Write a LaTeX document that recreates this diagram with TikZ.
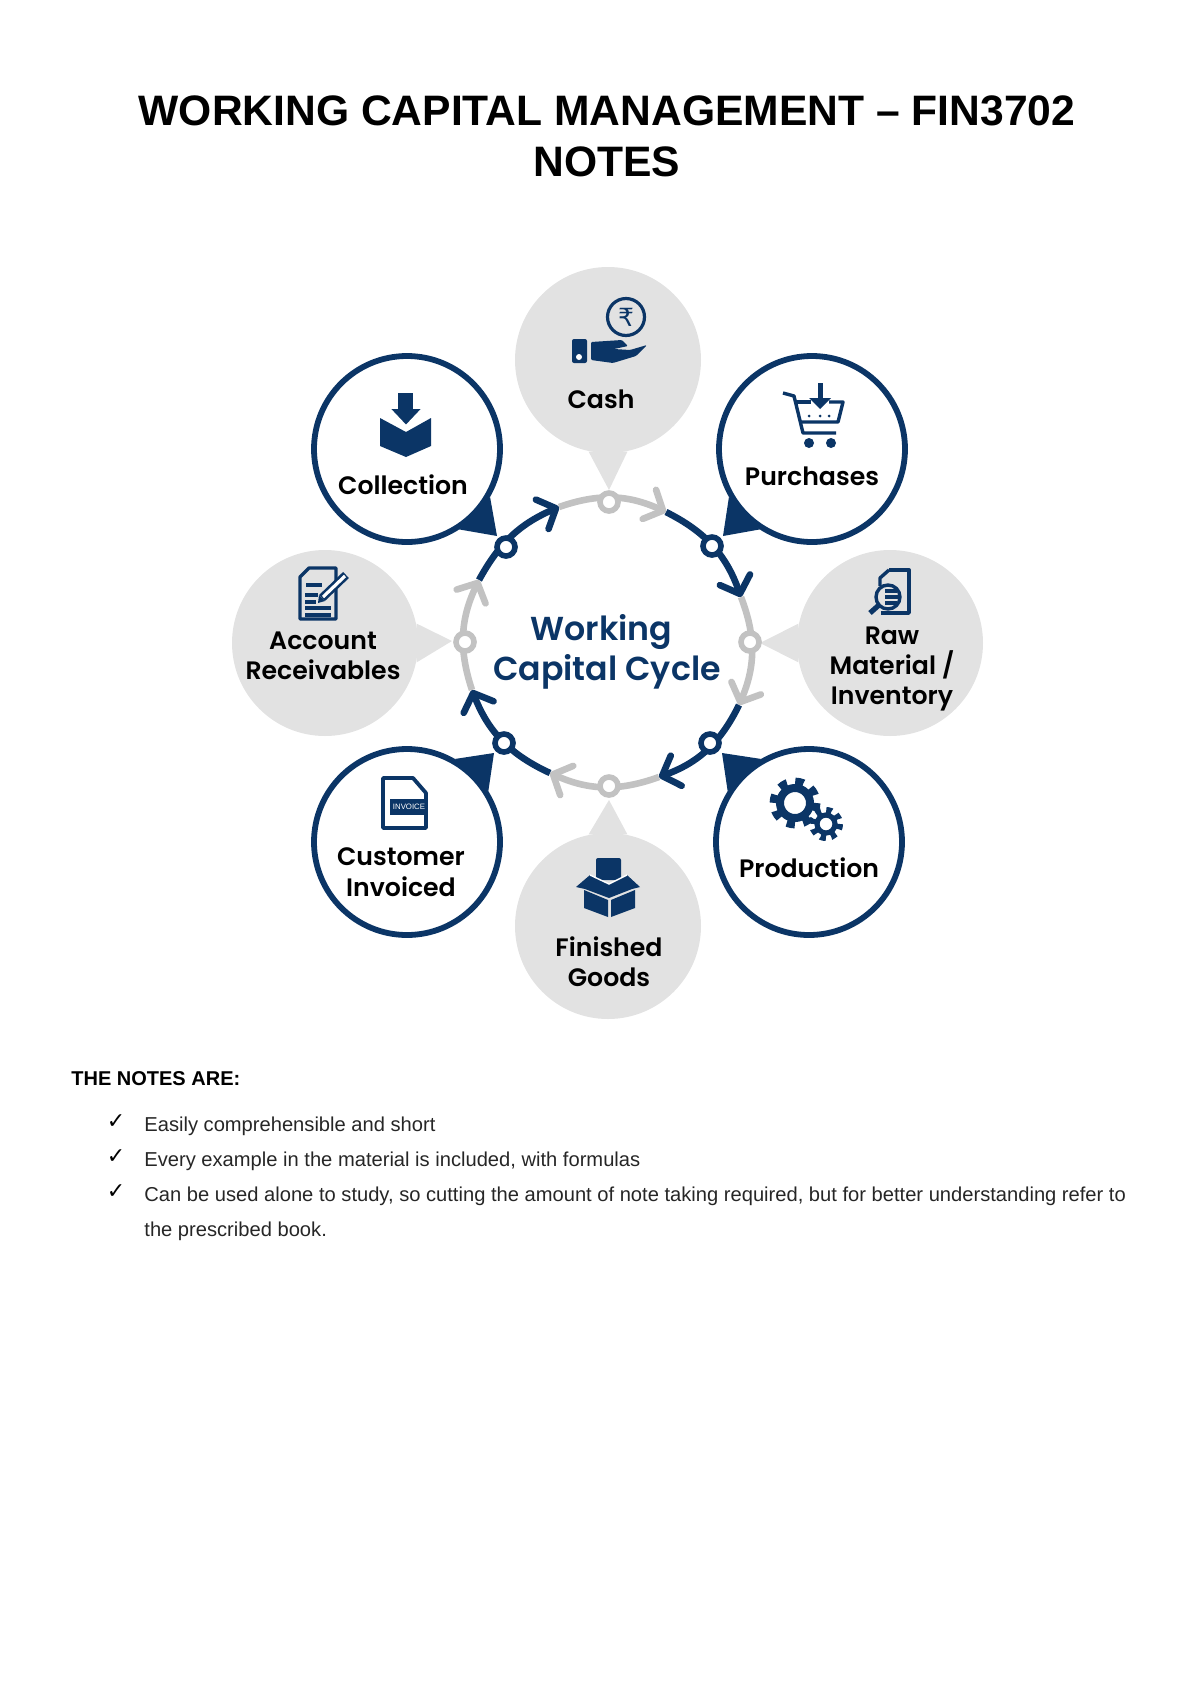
\documentclass[tikz,border=0pt]{standalone}
\usepackage{fontspec}
\setmainfont{Liberation Sans}
\newfontfamily\capfont[BoldFont={Poppins SemiBold}]{Poppins}
\newfontfamily\symfont{DejaVu Sans}
\usetikzlibrary{arrows.meta,backgrounds}
\definecolor{navyblue}{HTML}{0B3566}
\definecolor{ringgray}{HTML}{C2C2C2}
\definecolor{bubblegray}{HTML}{E2E2E2}

\begin{document}
\begin{tikzpicture}[x=.5pt,y=-.5pt,>={Straight Barb[length=7.5pt,width=16pt,round]},semithick]
  \tikzstyle{bubble}=[circle,fill=bubblegray,minimum size=93pt,inner sep=0pt]
  \tikzstyle{stage}=[circle,fill=white,draw=navyblue,line width=2.9pt,minimum size=93pt,inner sep=0pt]
  \tikzstyle{caption}=[font=\capfont\bfseries\fontsize{12.6}{15.2}\selectfont,align=center,text=black]
  \tikzstyle{hubtext}=[font=\capfont\bfseries\fontsize{16.6}{20}\selectfont,align=center,text=navyblue]
  \tikzstyle{navyarc}=[->,draw=navyblue,line width=3.3pt]
  \tikzstyle{grayarc}=[->,draw=ringgray,line width=3.3pt]
  \tikzstyle{navyring}=[circle,fill=white,draw=navyblue,line width=2.8pt,minimum size=9pt,inner sep=0pt]
  \tikzstyle{grayring}=[circle,fill=white,draw=ringgray,line width=2.8pt,minimum size=9pt,inner sep=0pt]
  \tikzstyle{iconline}=[draw=navyblue,line width=1.7pt,line join=round]
  \tikzstyle{iconfill}=[fill=navyblue]
  \tikzstyle{noteline}=[anchor=west,inner sep=0pt,font=\fontsize{10.07}{12}\selectfont,text=black!85]
  \tikzstyle{tick}=[inner sep=0pt,font=\symfont\fontsize{11}{12}\selectfont]

  \useasboundingbox (0,0) rectangle (1200,1698);

  % heading
  \node[font=\bfseries\fontsize{21.3}{25.5}\selectfont,align=center] (title) at (607,136)
    {WORKING CAPITAL MANAGEMENT -- FIN3702\\NOTES};

  % outer bubbles
  \node[bubble] (cash)     at (608,360) {};
  \node[bubble] (raw)      at (890,643) {};
  \node[bubble] (finished) at (608,926) {};
  \node[bubble] (account)  at (325,643) {};
  \coordinate (cashtip)     at (609,490);
  \coordinate (rawtip)      at (760,643);
  \coordinate (finishedtip) at (609,800);
  \coordinate (accounttip)  at (452,641);
  \fill[bubblegray] (cash.-102) -- (cashtip) -- (cash.-78) -- cycle;
  \fill[bubblegray] (raw.168) -- (rawtip) -- (raw.192) -- cycle;
  \fill[bubblegray] (finished.78) -- (finishedtip) -- (finished.102) -- cycle;
  \fill[bubblegray] (account.12) -- (accounttip) -- (account.-12) -- cycle;

  % outlined stages
  \node[stage] (collection) at (407,449) {};
  \node[stage] (purchases)  at (812,449) {};
  \node[stage] (production) at (809,842) {};
  \node[stage] (customer)   at (407,842) {};
  \coordinate (collectiontip) at (497,536);
  \coordinate (purchasestip)  at (723,536);
  \coordinate (productiontip) at (722,753);
  \coordinate (customertip)   at (494,753);
  \begin{pgfonlayer}{background}
    \fill[navyblue] (collection.-30) -- (collectiontip) -- (collection.-57) -- cycle;
    \fill[navyblue] (purchases.210) -- (purchasestip) -- (purchases.237) -- cycle;
    \fill[navyblue] (production.120) -- (productiontip) -- (production.148) -- cycle;
    \fill[navyblue] (customer.60) -- (customertip) -- (customer.32) -- cycle;
  \end{pgfonlayer}

  % the cycle
  \coordinate (t1) at (559,507);
  \coordinate (t2) at (666,512);
  \coordinate (t3) at (741,597);
  \coordinate (t4) at (739,705);
  \coordinate (t5) at (659,777);
  \coordinate (t6) at (550,773);
  \coordinate (t7) at (472,690);
  \coordinate (t8) at (479,580);
  \draw[navyarc] (t8) to[bend left=19] (t1);
  \draw[grayarc] (t1) to[bend left=22] (t2);
  \draw[navyarc] (t2) to[bend left=22] (t3);
  \draw[grayarc] (t3) to[bend left=22] (t4);
  \draw[navyarc] (t4) to[bend left=22] (t5);
  \draw[grayarc] (t5) to[bend left=22] (t6);
  \draw[navyarc] (t6) to[bend left=22] (t7);
  \draw[grayarc] (t7) to[bend left=22] (t8);
  \node[grayring] (ringcash)       at (609,502) {};
  \node[navyring] (ringpurchases)  at (712,546) {};
  \node[grayring] (ringraw)        at (750,642) {};
  \node[navyring] (ringproduction) at (710,743) {};
  \node[grayring] (ringfinished)   at (609,786) {};
  \node[navyring] (ringcustomer)   at (504,743) {};
  \node[grayring] (ringaccount)    at (465,642) {};
  \node[navyring] (ringcollection) at (506,547) {};

  % captions
  \node[hubtext] (hub) at (607,652) {\kern-5.5pt Working\\Capital Cycle};
  \node[caption] (cashtext)       at (601,399) {Cash};
  \node[caption] (collectiontext) at (403,485) {Collection};
  \node[caption] (purchasestext)  at (812,476) {Purchases};
  \node[caption] (accounttext)    at (323,656) {Account\\Receivables};
  \node[caption] (rawtext)        at (892,669) {Raw\\Material /\\Inventory};
  \node[caption] (customertext)   at (401,872) {Customer\\Invoiced};
  \node[caption] (productiontext) at (809,868) {Production};
  \node[caption] (finishedtext)   at (609,962) {Finished\\Goods};

  % cash icon
  \node[circle,draw=navyblue,line width=1.6pt,minimum size=18.5pt,inner sep=0pt,
    text=navyblue,font=\symfont\fontsize{12.5}{12.5}\selectfont] (coin) at (626,317) {₹};
  \fill[iconfill,rounded corners=1pt] (572,339) rectangle (587,363);
  \fill[white] (579,357) circle (3);
  \fill[iconfill,rounded corners=.6pt] (591,342) -- (622,340) -- (628,346) -- (614,349) -- (630,350) -- (647,345)
    -- (636,356) -- (613,363) -- (591,360) -- cycle;

  % collection icon
  \fill[iconfill] (380,418) -- (406,432) -- (431,418) -- (431,446) -- (406,457) -- (380,446) -- cycle;
  \fill[iconfill,draw=white,line width=.9pt] (397,392) -- (414,392) -- (414,408) -- (423,408)
    -- (406,426) -- (389,408) -- (397,408) -- cycle;

  % purchases icon
  \draw[iconline] (783,393) -- (794,396) -- (803,433) -- (836,433);
  \draw[iconline] (796,402) -- (811,402);
  \draw[iconline] (829,402) -- (843,402) -- (838,422) -- (801,422);
  \fill[iconfill] (817.5,383) rectangle (822.5,399);
  \fill[iconfill] (809,398) -- (831,398) -- (820,409) -- cycle;
  \fill[iconfill] (809,416) circle (1.5) (820,416) circle (1.5) (829,416) circle (1.5);
  \fill[iconfill] (809,443) circle (5) (831,443) circle (5);

  % account icon
  \draw[iconline] (309,568) -- (336,568) -- (336,619) -- (300,619) -- (300,577) -- cycle;
  \draw[iconline] (305,595) -- (318,595) (305,602) -- (316,602) (305,608) -- (331,608) (305,615) -- (331,615);
  \draw[iconline] (306,585) -- (322,585);
  \draw[navyblue,line width=4.2pt] (346,575) -- (322,598);
  \draw[white,line width=1.6pt] (345,576) -- (323,597);
  \fill[iconfill] (318,603) -- (319,595) -- (325,601) -- cycle;

  % raw material icon
  \draw[iconline] (889,570) -- (909,570) -- (909,613) -- (881,613);
  \draw[iconline] (889,570) -- (880,578) -- (880,586);
  \draw[iconline] (888,597) circle (12);
  \draw[iconline] (885,591) -- (897,591) (885,597) -- (898,597) (885,603) -- (897,603);
  \draw[navyblue,line width=2.6pt] (879,605) -- (870,613);

  % invoice icon
  \draw[iconline,line width=1.9pt] (383,778) -- (413,778) -- (426,793) -- (426,828) -- (383,828) -- cycle;
  \fill[iconfill] (390,799) rectangle (428,815);
  \node[inner sep=0pt,text=white,font=\fontsize{3.9}{4}\selectfont] (invoice) at (409,807) {INVOICE};

  % production icon
  \draw[navyblue,line width=4pt] (795,803) circle (15);
  \draw[navyblue,line width=4.4pt,dash pattern=on 4.1pt off 4.15pt] (795,803) circle (21);
  \draw[navyblue,line width=2.6pt] (826,824) circle (9);
  \draw[navyblue,line width=3pt,dash pattern=on 2.75pt off 2.75pt] (826,824) circle (14);

  % finished goods icon
  \fill[iconfill,rounded corners=1pt] (596,858) rectangle (621,880);
  \fill[iconfill] (584,890) -- (608,900) -- (608,917) -- (584,908) -- cycle;
  \fill[iconfill] (611,900) -- (635,890) -- (635,908) -- (611,917) -- cycle;
  \fill[iconfill] (576,887) -- (590,875) -- (609,884) -- (627,875) -- (640,887) -- (632,889) -- (609,898) -- (585,889) -- cycle;
  \draw[white,line width=.7pt] (590,875) -- (609,884) -- (627,875);

  % notes
  \node[anchor=west,inner sep=0pt,font=\bfseries\fontsize{10}{12}\selectfont] (notehead) at (71,1079) {THE NOTES ARE:};
  \node[tick] (tick1) at (116,1122) {✓};
  \node[tick] (tick2) at (116,1157) {✓};
  \node[tick] (tick3) at (116,1192) {✓};
  \node[noteline] (line1) at (144,1126) {Easily comprehensible and short};
  \node[noteline] (line2) at (144,1161) {Every example in the material is included, with formulas};
  \node[noteline] (line3) at (144,1196) {Can be used alone to study, so cutting the amount of note taking required, but for better understanding refer to};
  \node[noteline] (line4) at (144,1231) {the prescribed book.};
\end{tikzpicture}
\end{document}
